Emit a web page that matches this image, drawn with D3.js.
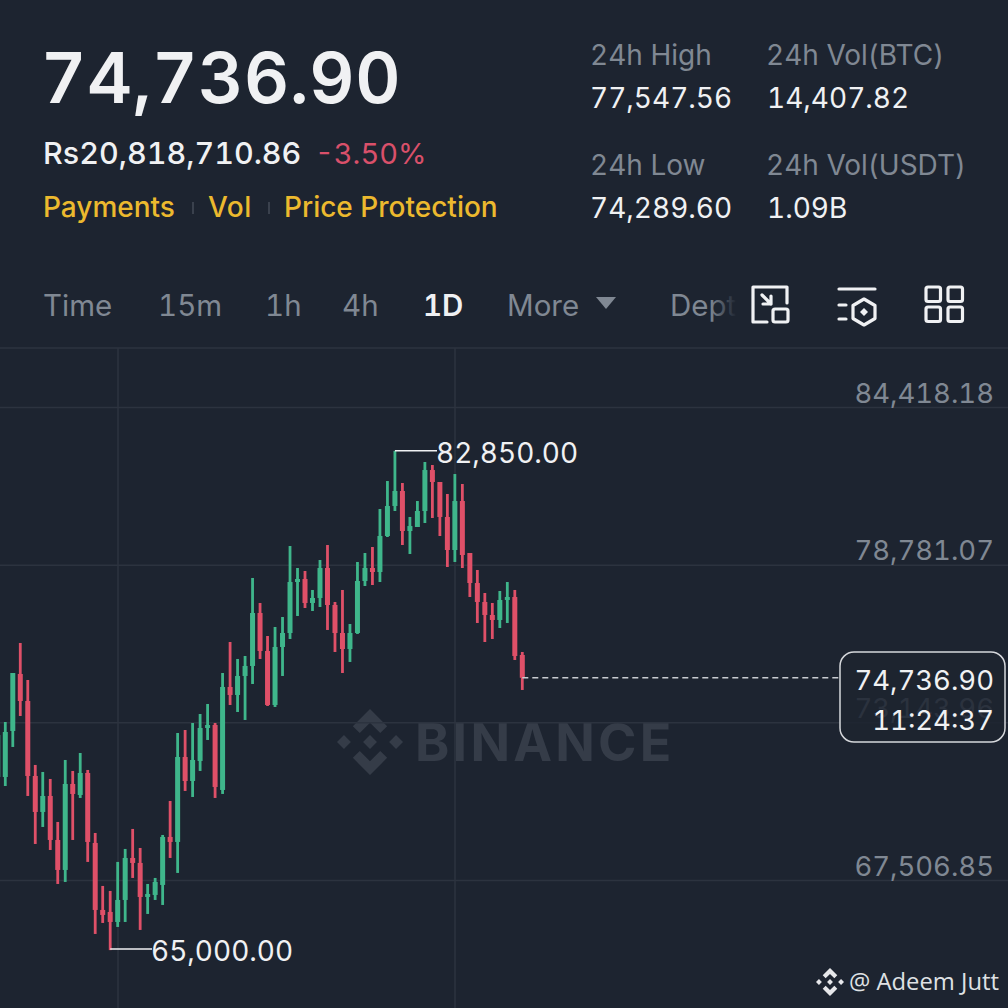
<!DOCTYPE html>
<html>
<head>
<meta charset="utf-8">
<script src="https://cdn.jsdelivr.net/npm/d3@7"></script>
<style>
  html, body { margin: 0; padding: 0; background: #1d2430; }
  svg { display: block; }
  text { font-family: Inter, "Open Sans", sans-serif; font-feature-settings: "tnum"; font-variant-numeric: tabular-nums; }
</style>
</head>
<body>
<svg id="chart" width="1008" height="1008"></svg>
<script>
// daily candles, oldest first
var opens = [71190,71190,72835,74873,73907,71226,69939,70511,68938,67866,70940,70547,71333,68831,66436,66364,66006,66793,68295,68116,66900,66972,67330,69046,68867,71905,71047,71762,72942,73049,70726,74408,74122,74801,75159,77053,75695,73764,75838,76338,78161,78269,77411,77590,78662,77339,76338,75766,76338,78197,78662,78519,79806,80879,81415,79985,80128,80700,82165,81737,80486,79305,81057,79198,78125,77447,76982,76803,77518,77625,75552];
var highs = [73156,73156,74908,75981,74658,71620,71369,71119,69582,71798,71405,72048,71441,69188,67294,67115,68153,68617,69332,68652,67365,67580,69117,70332,72763,72870,73121,73442,73800,73121,74908,76016,75409,75516,78305,77411,76231,76553,76910,79448,78662,78555,77876,78948,79484,77447,77876,76660,78877,79198,79413,80771,81772,82850,81701,80486,81057,82452,82344,81737,81308,82022,81665,79198,78591,77768,77411,77840,78161,77876,75659];
var lows = [70904,70868,72263,73371,70511,68795,69403,68580,67365,67437,68938,70440,68153,65578,65971,65000,65828,66006,67580,65721,66293,66793,66614,68295,67759,70690,70475,71405,72513,70440,70583,73764,73514,73228,74515,75409,73729,73693,74801,76124,76946,77232,77125,77268,76446,75659,74908,75302,76303,78018,78054,78161,79770,80700,79484,79163,80128,80271,80450,79806,78698,78877,78662,77625,76696,76016,76124,76517,76696,75373,74301];
var closes = [72692,72799,74908,73907,71226,69939,70511,68938,67866,70940,70583,71333,68867,66436,66257,66006,66793,68295,68116,66900,67007,67437,69046,68867,71905,71047,71798,72942,73049,70833,74408,74122,74801,75159,77053,75695,73764,75838,76338,78161,78269,77411,77590,78662,77339,76338,75766,76338,78197,78662,78519,79806,80879,81415,79985,80163,80700,82165,81737,80486,79305,81057,79127,78125,77447,76982,76803,77518,77625,75516,74736.9];

var priceTicks = [84418.18, 78781.07, 73143.96, 67506.85];
var lastPrice = 74736.90;
var highIndex = 53, highPrice = 82850;
var lowIndex = 15, lowPrice = 65000;
var countdown = "11:24:37";

var tabs = ["Time", "15m", "1h", "4h", "1D", "More"];
var tabX = [43, 158, 265, 342, 423, 507];

var bg = "#1d2430", grid = "#2c333f", up = "#3fb68b", down = "#df5068";
var grey = "#808893", white = "#f0f1f3", yellow = "#ecb92e";

var svg = d3.select("#chart");
svg.append("rect").attr("width", 1008).attr("height", 1008).attr("fill", bg);

var x = d3.scaleLinear().domain([0, 70]).range([-2.2, 522.3]);
var y = d3.scaleLinear().domain([84418.18, 67506.85]).range([407, 880]);

// header texts
function label(g, str, px, py, size, color, weight, anchor, spacing) {
  return g.append("text").attr("x", px).attr("y", py)
    .attr("font-size", size).attr("fill", color)
    .attr("font-weight", weight || 400)
    .attr("text-anchor", anchor || "start")
    .attr("letter-spacing", spacing || 0)
    .text(str);
}
var head = svg.append("g");
label(head, d3.format(",.2f")(lastPrice), 41, 103, 70, white, 600, "start", 0.6);
label(head, "Rs20,818,710.86", 43, 164, 30.5, white, 500);
label(head, "-3.50%", 315, 164, 29, "#d9506a", 400);
label(head, "Payments", 43, 217, 28, yellow, 500);
label(head, "Vol", 208, 217, 28, yellow, 500, "start", 0.5);
label(head, "Price Protection", 284, 217, 28, yellow, 500);
head.selectAll("rect.sep").data([192, 268]).enter().append("rect")
  .attr("x", function(d) { return d; }).attr("y", 202).attr("width", 2).attr("height", 12)
  .attr("fill", "#3a414d");

label(head, "24h High", 590, 65, 28, grey);
label(head, "77,547.56", 590, 108, 28, white);
label(head, "24h Vol(BTC)", 766, 65, 28, grey);
label(head, "14,407.82", 767, 108, 28, white);
label(head, "24h Low", 590, 175, 28, grey);
label(head, "74,289.60", 590, 218, 28, white);
label(head, "24h Vol(USDT)", 766, 175, 28, grey);
label(head, "1.09B", 767, 218, 28, white);

// time tabs
var tabG = svg.append("g");
tabs.forEach(function(t, i) {
  label(tabG, t, tabX[i], 316, 29.5, t === "1D" ? white : grey, t === "1D" ? 600 : 400);
});
tabG.append("path").attr("d", "M596,297L616,297L606,309Z").attr("fill", grey);

var fade = svg.append("defs").append("linearGradient").attr("id", "fade");
fade.append("stop").attr("offset", "0%").attr("stop-color", grey);
fade.append("stop").attr("offset", "60%").attr("stop-color", grey);
fade.append("stop").attr("offset", "100%").attr("stop-color", bg);
label(tabG, "Dept", 670, 316, 29.5, "url(#fade)");

// toolbar icons
var icons = svg.append("g").attr("fill", "none").attr("stroke", white)
  .attr("stroke-width", 3.2).attr("stroke-linecap", "round").attr("stroke-linejoin", "round");
icons.append("path").attr("d", "M767,322L753,322L753,287L787,287L787,303M762,295L771,304M771,296L771,304L763,304");
icons.append("rect").attr("x", 773).attr("y", 309).attr("width", 15).attr("height", 13).attr("rx", 2);
icons.append("path").attr("d", "M839,289L875,289M839,305L846,305M839,319L846,319");
icons.append("path").attr("d", "M864,299L875,305.500L875,318.500L864,325L853,318.500L853,305.500Z");
icons.append("path").attr("d", "M864,308L868,312L864,316L860,312Z").attr("fill", white).attr("stroke", "none");
[[926, 287], [948, 287], [926, 307], [948, 307]].forEach(function(p) {
  icons.append("rect").attr("x", p[0]).attr("y", p[1]).attr("width", 14.500).attr("height", 14.500).attr("rx", 2);
});

// frame and vertical grid
svg.append("line").attr("x1", 0).attr("x2", 1008).attr("y1", 348).attr("y2", 348).attr("stroke", grid).attr("stroke-width", 1.5);
svg.selectAll("line.v").data([118, 455]).enter().append("line").attr("class", "v")
  .attr("x1", function(d) { return d; }).attr("x2", function(d) { return d; })
  .attr("y1", 348).attr("y2", 1008).attr("stroke", grid).attr("stroke-width", 1.5);

// watermark
var mark = svg.append("g").attr("fill", "#353c48");
function binanceLogo(g, cx, cy, s) {
  var shapes = [
    [[0,-1],[0.52,-0.48],[0.31,-0.27],[0,-0.58],[-0.31,-0.27],[-0.52,-0.48]],
    [[0,1],[0.52,0.48],[0.31,0.27],[0,0.58],[-0.31,0.27],[-0.52,0.48]],
    [[0,-0.21],[0.21,0],[0,0.21],[-0.21,0]],
    [[-0.79,-0.21],[-0.58,0],[-0.79,0.21],[-1,0]],
    [[0.79,-0.21],[1,0],[0.79,0.21],[0.58,0]]
  ];
  shapes.forEach(function(p) {
    g.append("polygon").attr("points", p.map(function(q) { return (cx + q[0] * s) + "," + (cy + q[1] * s); }).join(" "));
  });
}
binanceLogo(mark, 370, 742, 33);
label(mark, "BINANCE", 415, 761, 52, "#353c48", 700, "start", 3.2);

// price axis
var axis = d3.axisRight(y).tickValues(priceTicks).tickSize(1008).tickFormat(d3.format(",.2f"));
var axisG = svg.append("g").call(axis);
axisG.select(".domain").remove();
axisG.selectAll(".tick line").attr("stroke", grid).attr("stroke-width", 1.5);
axisG.selectAll(".tick text").attr("x", 994).attr("dy", 0).attr("y", -5)
  .attr("text-anchor", "end").attr("font-size", 27.5).attr("fill", grey);

// candles
var candles = svg.append("g").selectAll("g").data(d3.range(opens.length)).enter().append("g")
  .attr("fill", function(i) { return closes[i] >= opens[i] ? up : down; });
candles.append("rect")
  .attr("x", function(i) { return x(i) - 1.4; }).attr("width", 2.8)
  .attr("y", function(i) { return y(highs[i]); })
  .attr("height", function(i) { return y(lows[i]) - y(highs[i]); });
candles.append("rect")
  .attr("x", function(i) { return x(i) - 2.5; }).attr("width", 5)
  .attr("y", function(i) { return y(Math.max(opens[i], closes[i])); })
  .attr("height", function(i) { return Math.max(1.5, Math.abs(y(opens[i]) - y(closes[i]))); });

// high and low callouts
var notes = svg.append("g");
notes.append("path").attr("fill", "none").attr("stroke", white).attr("stroke-width", 1.5)
  .attr("d", "M" + x(highIndex) + "," + y(highPrice) + "H437");
notes.append("path").attr("fill", "none").attr("stroke", white).attr("stroke-width", 1.5)
  .attr("d", "M" + x(lowIndex) + "," + (y(lowPrice) - 1) + "H152");
label(notes, d3.format(",.2f")(highPrice), 436, 463, 28, white);
label(notes, d3.format(",.2f")(lowPrice), 151, 961, 28, white);

// current price line and box
svg.append("line").attr("x1", x(70)).attr("x2", 840).attr("y1", y(lastPrice)).attr("y2", y(lastPrice))
  .attr("stroke", "#c9ccd1").attr("stroke-width", 1.5).attr("stroke-dasharray", "6,4");
svg.append("rect").attr("x", 840).attr("y", 652).attr("width", 165).attr("height", 90).attr("rx", 14)
  .attr("fill", bg).attr("fill-opacity", 0.86).attr("stroke", "#d5d7db").attr("stroke-width", 1.5);
label(svg, d3.format(",.2f")(lastPrice), 994, 690, 27.5, white, 400, "end");
label(svg, countdown, 994, 730, 27.5, white, 400, "end");

// credit
var credit = svg.append("g").attr("fill", "#e6e7ea");
binanceLogo(credit, 830, 982, 14);
label(credit, "@ Adeem Jutt", 849, 990, 23.8, "#dfe1e4", 400).style("font-family", "'Open Sans', sans-serif");
</script>
</body>
</html>
